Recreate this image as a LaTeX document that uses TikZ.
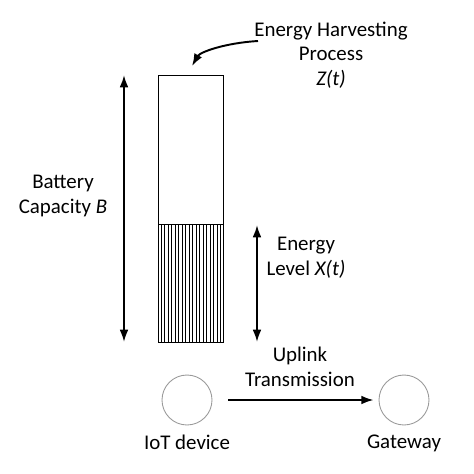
\documentclass[tikz,border=0pt]{standalone}
\usepackage{fontspec}
\setmainfont{Carlito}
\usetikzlibrary{arrows.meta}

\begin{document}
\begin{tikzpicture}[x=0.02cm, y=-0.02cm,
    font=\fontsize{11.9}{14}\selectfont,
    thickarrow/.style={line width=1.1pt, -{Latex[length=7pt,width=5pt]}},
    bothways/.style={line width=1.1pt, {Latex[length=7pt,width=5pt]}-{Latex[length=7pt,width=5pt]}},
    station/.style={draw=gray!80, circle, line width=0.5pt, minimum size=1.0cm, inner sep=0pt}]

    \useasboundingbox (0, 0) rectangle (474, 474);

    % Declare the battery
    \node[draw, line width=0.8pt, minimum width=1.3cm, minimum height=2.98cm, inner sep=0pt, anchor=north west] at (158, 75) (Empty) {};
    \node[draw, line width=0.8pt, minimum width=1.3cm, minimum height=2.36cm, inner sep=0pt, anchor=north west] at (158, 224) (Level) {};
    \foreach \x in {161, 164, 168, 171, 175, 178, 182, 185, 189, 192, 196, 199, 203, 206, 210, 213, 217, 220}
        \draw[line width=0.3pt] (\x, 224) -- (\x, 342);

    % Declare the labels
    \node[align=center] at (331, 55) (Harvest) {Energy Harvesting\\Process\\\textit{Z(t)}};
    \node[align=center] at (63, 196) (Capacity) {Battery\\Capacity \textit{B}};
    \node[align=center] at (306, 258) (Energy) {Energy\\Level \textit{X(t)}};
    \node[align=center] at (300, 367) (Uplink) {Uplink\\Transmission};

    % Declare the stations
    \node[station] at (187, 400) (IoT) {};
    \node[station] at (404, 400) (GW) {};
    \node[below=2pt] at (IoT.south) (IoTname) {IoT device};
    \node[below=2pt] at (GW.south) (GWname) {Gateway};

    % Declare arrow ends
    \coordinate (CapTop) at (124, 75);
    \coordinate (CapBot) at (124, 342);
    \coordinate (LevTop) at (257, 225);
    \coordinate (LevBot) at (257, 342);
    \coordinate (HarvStart) at (258, 41);
    \coordinate (HarvEnd) at (192, 66);

    % Declare edges
    \draw[bothways] (CapTop) -- (CapBot);
    \draw[bothways] (LevTop) -- (LevBot);
    \draw[thickarrow] (HarvStart) .. controls (225, 43) and (200, 52) .. (HarvEnd);
    \draw[thickarrow] ([xshift=0.32cm]IoT.east) -- ([xshift=-0.1cm]GW.west);

\end{tikzpicture}
\end{document}
